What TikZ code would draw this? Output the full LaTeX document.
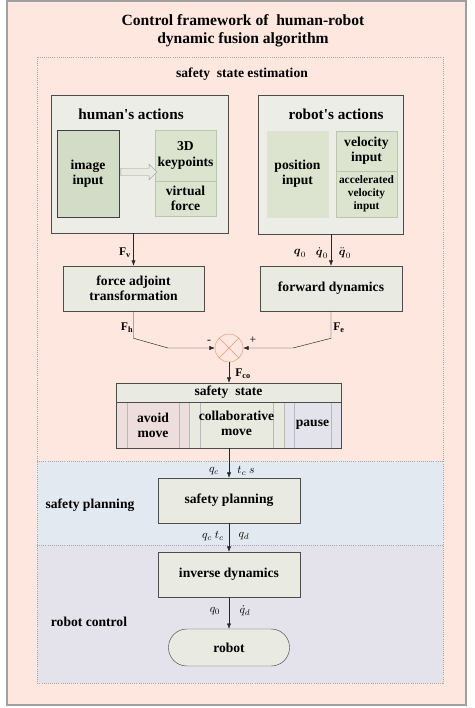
\documentclass[tikz,border=0pt]{standalone}
\usepackage{amsmath}
\usepackage{fontspec}
\setmainfont{Liberation Serif}
\usetikzlibrary{arrows.meta,shapes.arrows}

\definecolor{outerpink}{HTML}{FDE7DF}
\definecolor{planblue}{HTML}{E3E9F0}
\definecolor{ctrllav}{HTML}{E4E2EB}
\definecolor{boxfill}{HTML}{E9EBE2}
\definecolor{panelfill}{HTML}{EBEDE6}
\definecolor{imgfill}{HTML}{D3DCC6}
\definecolor{subfill}{HTML}{DCE4D0}
\definecolor{subline}{HTML}{B9C7AA}
\definecolor{sumline}{HTML}{E59A7A}
\definecolor{avoidpink}{HTML}{EDDDDD}
\definecolor{collabgreen}{HTML}{E8EADF}
\definecolor{pauselav}{HTML}{E3E3EB}

\newcommand\ttlfont{\bfseries\fontsize{13.3}{15.3}\selectfont}
\newcommand\bxfont{\bfseries\fontsize{11.6}{13}\selectfont}
\newcommand\pnfont{\bfseries\fontsize{13}{15}\selectfont}
\newcommand\smfont{\bfseries\fontsize{9.7}{11}\selectfont}

\tikzset{
  box/.style={draw=black!70, fill=boxfill, font=\bxfont, align=center, inner sep=0pt},
  panel/.style={draw=black!70, fill=panelfill, inner sep=0pt},
  subbox/.style={draw=subline, fill=subfill, font=\bxfont, align=center, inner sep=0pt},
  lbl/.style={font=\fontsize{10}{11}\selectfont, inner sep=1pt},
  arr/.style={draw=black!85, -{Latex[length=4.5pt,width=3.5pt]}},
  region/.style={draw=gray!70, line width=0.8pt, dash pattern=on 0.8pt off 1pt}
}

\begin{document}
\begin{tikzpicture}[x=0.03cm, y=-0.03cm]
\useasboundingbox (0,0) rectangle (474,708);

\fill[outerpink] (7,1) rectangle (466,705);
\draw[gray!75, line width=1.3pt] (7,1) rectangle (466,705);
\fill[planblue] (37,461) rectangle (443,545);
\fill[ctrllav] (37,545) rectangle (443,683);
\draw[region] (37,57) rectangle (443,683);
\draw[region] (37,461) -- (443,461) (37,545) -- (443,545);

\node (title) at (243,31) [font=\ttlfont, align=center] {Control framework of\ \ human-robot\\dynamic fusion algorithm};
\node (sse) at (242,74) [font=\bxfont] {safety\ \ state estimation};

\node (hum) at (139.5,164) [panel, minimum width=5.31cm, minimum height=4.14cm] {};
\node (humt) at (131,114) [font=\pnfont] {human\textquotesingle s actions};
\node (img) at (88,173.5) [box, draw=black!75, fill=imgfill, minimum width=1.86cm, minimum height=2.61cm] {image\\input};
\node (kp) at (185.5,155.5) [subbox, minimum width=1.83cm, minimum height=1.53cm] {3D\\keypoints};
\node (vf) at (185.5,198.5) [subbox, minimum width=1.83cm, minimum height=1.05cm] {virtual\\force};
\node (harr) at (137,172) [single arrow, draw=gray!80, fill=boxfill, inner sep=3pt, single arrow head extend=3.5pt, minimum height=1.08cm] {};

\node (rob) at (330.5,164.5) [panel, minimum width=4.35cm, minimum height=4.17cm] {};
\node (robt) at (336,114) [font=\pnfont] {robot\textquotesingle s actions};
\node (pos) at (297.5,174) [subbox, draw=subfill, minimum width=1.83cm, minimum height=2.58cm] {position\\input};
\node (vel) at (366.5,151) [subbox, minimum width=1.83cm, minimum height=1.2cm] {velocity\\input};
\node (acc) at (366.5,194) [subbox, font=\smfont, minimum width=1.83cm, minimum height=1.38cm] {accelerated\\velocity\\input};

\node (fat) at (133.5,288.5) [box, minimum width=4.23cm, minimum height=1.35cm] {force adjoint\\transformation};
\node (fd) at (331,288.5) [box, minimum width=4.26cm, minimum height=1.35cm] {forward dynamics};

\node (fv) at (125,253) [lbl] {$\mathbf{F}_{\mathbf{v}}$};
\node (q0) at (300,253) [lbl] {$\boldsymbol{q}_0$};
\node (qd0) at (322,253) [lbl] {$\dot{\boldsymbol{q}}_0$};
\node (qdd0) at (345,253) [lbl] {$\ddot{\boldsymbol{q}}_0$};
\draw[arr] (hum.south -| fat.north) -- (fat.north);
\draw[arr] (rob.south -| fd.north) -- (fd.north);

\node (sum) at (229,348) [circle, draw=sumline, fill=outerpink, minimum size=0.84cm, inner sep=0pt,
  path picture={\draw[sumline] (path picture bounding box.north west) -- (path picture bounding box.south east)
  (path picture bounding box.north east) -- (path picture bounding box.south west);}] {};
\node (fh) at (127,328) [lbl] {$\mathbf{F}_{\mathbf{h}}$};
\node (fe) at (339,328) [lbl] {$\mathbf{F}_{\mathbf{e}}$};
\node (minus) at (209,342) [lbl] {-};
\node (plus) at (253,340) [lbl] {+};
\draw[arr] (fat.south) -- ++(0,27) -- (168,348) -- (sum.west);
\draw[arr] (fd.south) -- ++(0,27) -- (293,348) -- (sum.east);

\node (ss) at (228.5,415.5) [box, minimum width=6.75cm, minimum height=1.95cm] {};
\node (sst) at (228.5,392.5) [font=\bxfont] {safety\ \ state};
\foreach \xa/\xb/\c in {116/127/avoidpink, 127/179/avoidpink, 179/189/avoidpink, 189/200/collabgreen,
  200/273/collabgreen, 273/284/collabgreen, 284/294/pauselav, 294/331/pauselav, 331/341/pauselav}
  \filldraw[fill=\c, draw=gray!55] (\xa,402) rectangle (\xb,448);
\draw[black!70] (ss.north west) rectangle (ss.south east) (116,402) -- (341,402);
\node (avoid) at (153,425) [font=\bxfont, align=center] {avoid\\move};
\node (collab) at (236.5,423) [font=\bxfont, align=center] {collaborative\\move};
\node (pause) at (312.5,425) [font=\bxfont] {pause};
\node (fco) at (243,374) [lbl] {$\mathbf{F}_{\mathbf{co}}$};
\draw[arr] (sum.south) -- (ss.north -| sum.south);

\node (sp) at (229,500.5) [box, minimum width=4.26cm, minimum height=1.35cm] {safety planning};
\node (splab) at (90,505) [font=\bxfont] {safety planning};
\node (qc) at (214,471) [lbl] {$q_c$};
\node (tcs) at (246,471) [lbl] {$t_c\ s$};
\draw[arr] (ss.south -| sp.north) -- (sp.north);

\node (id) at (229,574.5) [box, minimum width=4.26cm, minimum height=1.35cm] {inverse dynamics};
\node (qctc) at (213,536) [lbl] {$q_c\ t_c$};
\node (qd) at (244,536) [lbl] {$q_d$};
\draw[arr] (sp.south) -- (id.north);

\node (rbt) at (229,647.5) [box, rounded corners=0.55cm, minimum width=3.63cm, minimum height=1.11cm] {robot};
\node (rclab) at (89,622) [font=\bxfont] {robot control};
\node (q0b) at (215,611) [lbl] {$q_0$};
\node (qdd) at (245,611) [lbl] {$\dot{q}_d$};
\draw[arr] (id.south) -- (rbt.north);
\end{tikzpicture}
\end{document}
